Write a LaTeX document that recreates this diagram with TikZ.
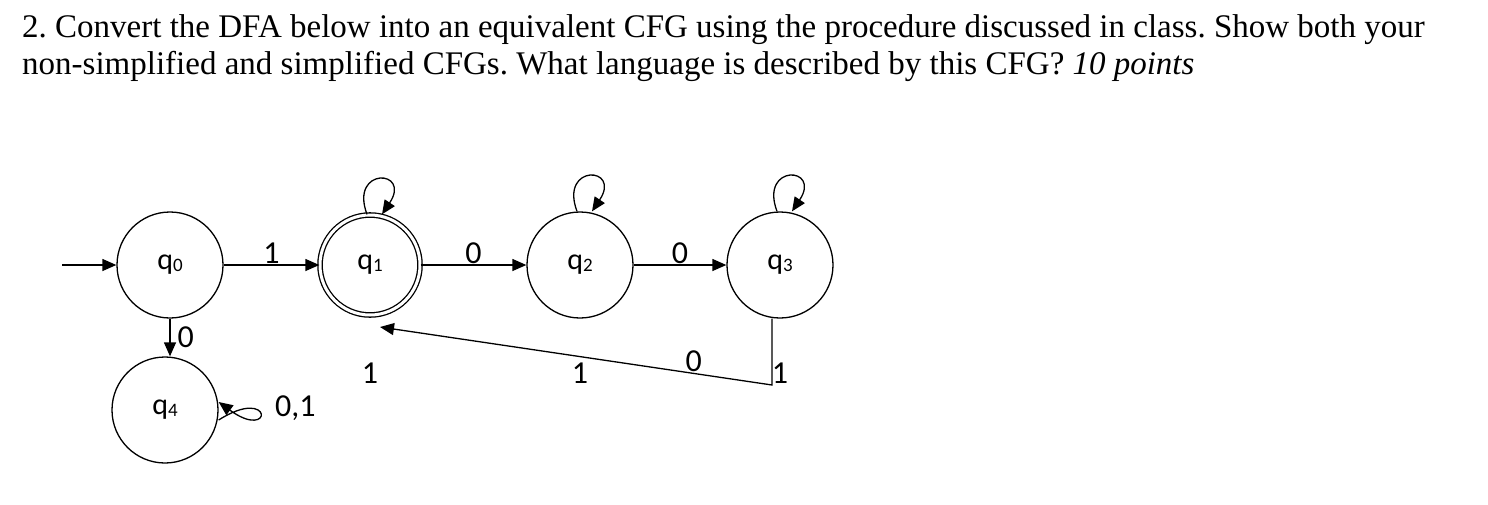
\documentclass[tikz,border=0pt]{standalone}
\usepackage{fontspec}
\setmainfont{Liberation Serif}
\newfontfamily\lab{Carlito}
\usetikzlibrary{arrows.meta}
\frenchspacing
\begin{document}
\begin{tikzpicture}[x=1pt,y=-1pt,
  st/.style={circle,draw,line width=1.3pt,minimum size=106pt,inner sep=0pt,font=\lab\fontsize{30}{32}\selectfont},
  acc/.style={st,double,double distance=3pt,minimum size=100pt},
  ed/.style={line width=1.3pt,-{Triangle[length=14pt,width=12pt]}},
  lb/.style={font=\lab\fontsize{32}{34}\selectfont,inner sep=1pt}]
\useasboundingbox (0,0) rectangle (1488,504);
\node[anchor=north west,align=left,inner sep=0pt,font=\fontsize{33}{37}\selectfont] (t) at (22,14)
 {2. Convert the DFA below into an equivalent CFG using the procedure discussed in class. Show both your\\
 non-simplified and simplified CFGs. What language is described by this CFG? \textit{10 points}};
\node[st] (q0) at (170,265) {q\raisebox{-2pt}{\fontsize{19}{19}\selectfont 0}};
\node[acc] (q1) at (370,265) {q\raisebox{-2pt}{\fontsize{19}{19}\selectfont 1}};
\node[st] (q2) at (580,265) {q\raisebox{-2pt}{\fontsize{19}{19}\selectfont 2}};
\node[st] (q3) at (780,265) {q\raisebox{-2pt}{\fontsize{19}{19}\selectfont 3}};
\node[st] (q4) at (165,410) {q\raisebox{-2pt}{\fontsize{19}{19}\selectfont 4}};
\coordinate (s) at (62,265);
\draw[ed] (s) -- (q0);
\draw[ed] (q0) -- node[lb,above]{1} (q1);
\draw[ed] (q1) -- node[lb,above]{0} (q2);
\draw[ed] (q2) -- node[lb,above]{0} (q3);
\draw[ed] (q0.south) -- node[lb,right=6pt]{0} (q0.south |- q4.north);
\coordinate (c) at (772,385);
\draw[ed] (q3.south -| c) -- (c) -- node[lb,above,pos=0.2]{0} (380,327);
\foreach \n in {q1,q2,q3}{
  \draw[ed] ([xshift=-3pt]\n.north) .. controls +(-18,-48) and +(30,-45) .. ([xshift=12pt]\n.north);
  \node[lb] at ([yshift=-108pt]\n.center) {1};}
\draw[ed] ([yshift=-10pt]q4.east) .. controls +(55,-35) and +(55,40) .. ([yshift=8pt]q4.east);
\node[lb,anchor=west] at (274,408) {0,1};
\end{tikzpicture}
\end{document}
